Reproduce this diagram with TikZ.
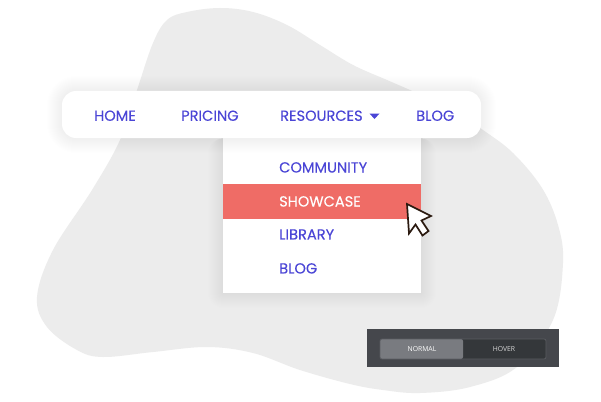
\documentclass[tikz,border=0pt]{standalone}
\usepackage{fontspec}
\setmainfont{Poppins}[FakeBold=0.18]
\newfontfamily\uifont{Open Sans}
\definecolor{blobgray}{HTML}{ECECEC}
\definecolor{navblue}{HTML}{4A45D6}
\definecolor{hoverred}{HTML}{EF6C66}
\definecolor{panel}{HTML}{45474C}
\definecolor{normalbtn}{HTML}{797B80}
\definecolor{hoverbtn}{HTML}{34373A}
\definecolor{btnedge}{HTML}{5A5C61}
\definecolor{cursoredge}{HTML}{2B1A10}
\tikzset{
  navlabel/.style={text=navblue,font=\fontsize{14.6}{16}\selectfont,inner sep=0pt,anchor=west},
  softshadow/.style={black,opacity=0.005},
  uilabel/.style={font=\uifont\fontsize{6.8}{8}\selectfont,inner sep=0pt}
}
\begin{document}
\begin{tikzpicture}[x=1pt,y=-1pt]
\useasboundingbox (0,0) rectangle (601,401);
\fill[white] (0,0) rectangle (601,401);
% blob
\fill[blobgray] plot[smooth cycle,tension=0.6] coordinates {
  (220,8) (253,12) (287,25) (320,45) (353,65) (387,80) (410,90) (450,108)
  (483,130) (513,153) (542,188) (558,225) (563,263) (553,320) (517,367)
  (470,387) (420,393) (383,390) (350,384) (300,370) (253,353) (207,347)
  (153,352) (103,357) (77,350) (47,327) (37,297) (53,250) (92,190)
  (120,140) (137,90) (153,43) (167,20) (187,12)};
% dropdown shadow
\foreach \s in {1,...,15}{
  \fill[softshadow,rounded corners=\s pt] (223-\s,138) rectangle (421+\s,293+\s);
}
% dropdown
\fill[white] (223,138) rectangle (421,293);
\fill[hoverred] (223,184) rectangle (421,219);
% nav shadow
\foreach \s in {1,...,15}{
  \fill[softshadow,rounded corners=14pt+\s pt] (62-\s,91-\s) rectangle (481+\s,138+\s);
}
\fill[white,rounded corners=14pt] (62,91) rectangle (481,138);
% nav labels
\node[navlabel] (home) at (94,115.7) {HOME};
\node[navlabel] (pricing) at (181,115.7) {PRICING};
\node[navlabel] (resources) at (280,115.7) {RESOURCES};
\node[navlabel] (blogtop) at (416,115.7) {BLOG};
\fill[navblue] (369.5,113.5) -- (379.5,113.5) -- (374.5,119) -- cycle;
% menu labels
\node[navlabel] (community) at (279,167.4) {COMMUNITY};
\node[navlabel,text=white] (showcase) at (279,201.4) {SHOWCASE};
\node[navlabel] (library) at (279,234.4) {LIBRARY};
\node[navlabel] (blogmenu) at (279,268.4) {BLOG};
% cursor
\filldraw[fill=white,draw=cursoredge,line width=1.7pt,line join=miter]
  (407,204) -- (431,216) -- (421.5,220.5) -- (428.5,231) -- (422.5,235.5)
  -- (415.5,224.5) -- (409,233.5) -- cycle;
% switcher
\fill[panel] (367,329) rectangle (559,367);
\fill[hoverbtn,rounded corners=2pt] (380,339) rectangle (546,359);
\fill[normalbtn,rounded corners=2pt] (380,339) -- (463,339) -- (463,359) -- (380,359) -- cycle;
\draw[btnedge,line width=0.7pt,rounded corners=2pt] (380,339) rectangle (546,359);
\node[uilabel,text=white] (normal) at (422,349) {NORMAL};
\node[uilabel,text=white!85!black] (hover) at (504,349) {HOVER};
\end{tikzpicture}
\end{document}
